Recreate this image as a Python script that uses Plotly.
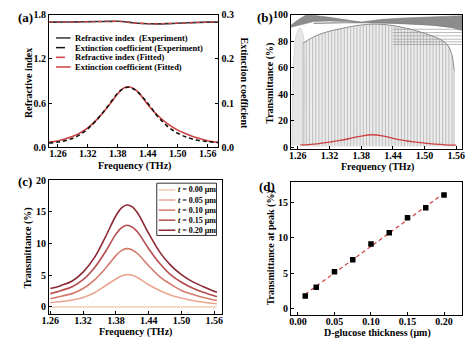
import numpy as np
import plotly.graph_objects as go

FONT = "Liberation Serif"
W, H = 474, 346

# ---------------- (a) optical constants ----------------
a_freq = [1.2424, 1.26, 1.28, 1.30, 1.32, 1.34, 1.36, 1.38, 1.39, 1.40, 1.41, 1.42,
          1.44, 1.46, 1.48, 1.50, 1.52, 1.54, 1.56, 1.5816]
a_n_exp = [1.700, 1.700, 1.701, 1.703, 1.705, 1.707, 1.709, 1.711, 1.707, 1.700, 1.692, 1.685,
           1.678, 1.676, 1.679, 1.684, 1.690, 1.695, 1.699, 1.700]
a_n_fit = [1.700, 1.700, 1.701, 1.703, 1.705, 1.707, 1.709, 1.710, 1.706, 1.699, 1.691, 1.685,
           1.679, 1.677, 1.680, 1.685, 1.690, 1.695, 1.698, 1.700]
a_k_exp = [0.010, 0.012, 0.017, 0.026, 0.042, 0.065, 0.093, 0.123, 0.132, 0.136, 0.133, 0.125,
           0.100, 0.070, 0.047, 0.032, 0.022, 0.016, 0.013, 0.011]
a_k_fit = [0.012, 0.0145, 0.021, 0.030, 0.044, 0.065, 0.092, 0.121, 0.133, 0.137, 0.134, 0.126,
           0.097, 0.072, 0.053, 0.039, 0.029, 0.021, 0.015, 0.011]
a_legend = ["Refractive index  (Experiment)", "Extinction coefficient (Experiment)",
            "Refractive index (Fitted)", "Extinction coefficient (Fitted)"]
freq_ticks = [1.26, 1.32, 1.38, 1.44, 1.50, 1.56]
a_yticks = [0.0, 0.6, 1.2, 1.8]
a_y2ticks = [0.0, 0.1, 0.2, 0.3]

# ---------------- (b) transmittance map ----------------
b_freq = [1.265, 1.28, 1.30, 1.32, 1.34, 1.36, 1.38, 1.40, 1.42, 1.44, 1.46, 1.48,
          1.50, 1.52, 1.54, 1.56]
b_trans = [1.6, 1.9, 2.6, 3.7, 5.0, 6.6, 8.3, 9.3, 8.5, 6.6, 5.0, 3.9, 3.0, 2.2, 1.7, 1.5]
b_mesh_freq = [1.270, 1.276, 1.282, 1.288, 1.294, 1.300, 1.306, 1.312, 1.318, 1.324, 1.330,
               1.336, 1.342, 1.348, 1.354, 1.360, 1.366, 1.372, 1.378, 1.384, 1.390, 1.396,
               1.402, 1.408, 1.414, 1.420, 1.426, 1.432, 1.438, 1.444, 1.450, 1.456, 1.462,
               1.468, 1.474, 1.480, 1.486, 1.492, 1.498, 1.504, 1.510, 1.516, 1.522, 1.528,
               1.534, 1.540, 1.546, 1.552, 1.556]
b_mesh_top = [78.5, 80, 81.5, 82.8, 84, 85, 85.8, 86.6, 87.3, 88, 88.5, 89, 89.5, 90, 90.5,
              91, 91.4, 91.8, 92.1, 92.4, 92.6, 92.8, 92.9, 92.9, 92.8, 92.7, 92.5, 92.2,
              91.9, 91.5, 91.1, 90.6, 90.1, 89.6, 89, 88.3, 87.6, 86.9, 86.2, 85.4, 84.6,
              83.7, 82.7, 81.6, 80.3, 78.5, 75.5, 69, 58]
b_mesh_bottom = 1.0
b_h_levels = [89, 86.5, 84, 81.5, 79.5, 77.5]
b_h_start = 1.44
b_left_x = [1.249, 1.250, 1.253, 1.258, 1.264, 1.270, 1.272, 1.272]
b_left_y = [1, 30, 70, 86, 90, 85, 78, 1]
b_wedgeL_x = [1.247, 1.26, 1.275, 1.29, 1.32, 1.35, 1.38, 1.35, 1.32, 1.29, 1.27, 1.247]
b_wedgeL_y = [92, 96, 99.5, 99.6, 98, 96, 94.5, 94.8, 95.2, 94.8, 93, 90.5]
b_wedgeR_x = [1.38, 1.42, 1.46, 1.50, 1.54, 1.5711, 1.5711, 1.55, 1.52, 1.48, 1.44, 1.40]
b_wedgeR_y = [94.5, 96.5, 97.5, 98.3, 99, 99.3, 88, 90.5, 92, 93, 93.5, 94]
b_band_x = [1.29, 1.33, 1.37, 1.41, 1.45, 1.49, 1.53, 1.5711]
b_band_y = [93.5, 93.8, 94.0, 94.0, 93.6, 92.8, 91.5, 89.5]
b_yticks = [0, 20, 40, 60, 80, 100]

# ---------------- (c) spectra vs thickness ----------------
c_freq = [1.26, 1.28, 1.30, 1.32, 1.34, 1.36, 1.38, 1.39, 1.40, 1.41, 1.42, 1.44, 1.46,
          1.48, 1.50, 1.52, 1.54, 1.565]
c_t000 = [0.0] * 18
c_t005 = [0.66, 0.85, 1.1, 1.5, 2.2, 3.3, 4.4, 4.9, 5.1, 5.0, 4.6, 3.5, 2.6, 1.9, 1.4, 1.0, 0.75, 0.5]
c_t010 = [1.3, 1.7, 2.1, 2.9, 4.2, 6.0, 8.1, 8.9, 9.2, 9.0, 8.4, 6.5, 4.8, 3.6, 2.6, 2.0, 1.5, 1.0]
c_t015 = [2.1, 2.6, 3.2, 4.3, 6.1, 8.6, 11.5, 12.5, 12.9, 12.6, 11.8, 9.2, 6.9, 5.1, 3.9, 3.0, 2.3, 1.6]
c_t020 = [2.9, 3.4, 4.1, 5.5, 7.7, 10.9, 14.4, 15.6, 16.1, 15.8, 14.8, 11.6, 8.7, 6.6, 5.1, 4.0, 3.2, 2.3]
c_series = [c_t000, c_t005, c_t010, c_t015, c_t020]
c_labels = ["0.00", "0.05", "0.10", "0.15", "0.20"]
c_colors = ["#f3cbb7", "#e9a692", "#d57b6c", "#b64c4e", "#8b2935"]
c_yticks = [0, 5, 10, 15, 20]

# ---------------- (d) peak transmittance ----------------
d_thick = [0.01, 0.025, 0.05, 0.075, 0.10, 0.125, 0.15, 0.175, 0.20]
d_peak = [1.8, 3.0, 5.2, 6.9, 9.1, 10.7, 12.8, 14.2, 16.0]
d_xticks = [0.00, 0.05, 0.10, 0.15, 0.20]
d_yticks = [0, 5, 10, 15]

RED = "#cc4040"


def px(x):
    return x / W


def py(y):
    return 1 - y / H


fig = go.Figure()

# (a)
fig.add_trace(go.Scatter(x=a_freq, y=a_n_exp, xaxis="x", yaxis="y", mode="lines",
                         line=dict(color="#333333", width=1.6, shape="spline"), showlegend=False))
fig.add_trace(go.Scatter(x=a_freq, y=a_n_fit, xaxis="x", yaxis="y", mode="lines",
                         line=dict(color=RED, width=1.3, dash="4px,3px", shape="spline"), showlegend=False))
fig.add_trace(go.Scatter(x=a_freq, y=a_k_fit, xaxis="x", yaxis="y5", mode="lines",
                         line=dict(color=RED, width=1.6, shape="spline"), showlegend=False))
fig.add_trace(go.Scatter(x=a_freq, y=a_k_exp, xaxis="x", yaxis="y5", mode="lines",
                         line=dict(color="#111111", width=1.6, dash="4px,3px", shape="spline"), showlegend=False))

# (b)
fig.add_trace(go.Scatter(x=b_mesh_freq, y=b_mesh_top, xaxis="x2", yaxis="y2", mode="lines",
                         line=dict(width=0, color="#ececec", shape="spline"), fill="tozeroy",
                         fillcolor="#ececec", showlegend=False, hoverinfo="skip"))
fig.add_trace(go.Scatter(x=b_left_x, y=b_left_y, xaxis="x2", yaxis="y2", mode="lines",
                         line=dict(width=0.6, color="#c8c8c8", shape="spline"), fill="toself",
                         fillcolor="#e6e6e6", showlegend=False, hoverinfo="skip"))
vx, vy = [], []
for f, top in zip(b_mesh_freq, b_mesh_top):
    vx += [f, f, None]
    vy += [b_mesh_bottom, top, None]
fig.add_trace(go.Scatter(x=vx, y=vy, xaxis="x2", yaxis="y2", mode="lines",
                         line=dict(width=0.7, color="#a9a9a9"), showlegend=False, hoverinfo="skip"))
hx, hy = [], []
for lev in b_h_levels:
    hx += [b_h_start, 1.5711, None]
    hy += [lev, lev, None]
fig.add_trace(go.Scatter(x=hx, y=hy, xaxis="x2", yaxis="y2", mode="lines",
                         line=dict(width=0.6, color="#8c8c8c"), showlegend=False, hoverinfo="skip"))
fig.add_trace(go.Scatter(x=b_mesh_freq, y=b_mesh_top, xaxis="x2", yaxis="y2", mode="lines",
                         line=dict(width=1.0, color="#8a8a8a", shape="spline"),
                         showlegend=False, hoverinfo="skip"))
fig.add_trace(go.Scatter(x=b_band_x, y=b_band_y, xaxis="x2", yaxis="y2", mode="lines",
                         line=dict(width=1.2, color="#909090", shape="spline"),
                         showlegend=False, hoverinfo="skip"))
for wx, wy in [(b_wedgeL_x, b_wedgeL_y), (b_wedgeR_x, b_wedgeR_y)]:
    fig.add_trace(go.Scatter(x=wx, y=wy, xaxis="x2", yaxis="y2", mode="lines",
                             line=dict(width=0.5, color="#777777"), fill="toself",
                             fillcolor="#8c8c8c", showlegend=False, hoverinfo="skip"))
fig.add_trace(go.Scatter(x=b_freq, y=b_trans, xaxis="x2", yaxis="y2", mode="lines",
                         line=dict(color=RED, width=1.3, shape="spline"), showlegend=False))

# (c)
for ser, col in zip(c_series, c_colors):
    fig.add_trace(go.Scatter(x=c_freq, y=ser, xaxis="x3", yaxis="y3", mode="lines",
                             line=dict(color=col, width=1.6, shape="spline"), showlegend=False))

# (d)
coef = np.polyfit(d_thick, d_peak, 1)
fit_x = [d_thick[0], d_thick[-1]]
fit_y = list(np.polyval(coef, fit_x))
fig.add_trace(go.Scatter(x=fit_x, y=fit_y, xaxis="x4", yaxis="y4", mode="lines",
                         line=dict(color=RED, width=1.2, dash="4px,3px"), showlegend=False))
fig.add_trace(go.Scatter(x=d_thick, y=d_peak, xaxis="x4", yaxis="y4", mode="markers",
                         marker=dict(symbol="square", size=5.5, color="black"), showlegend=False))

tickfont = dict(family=FONT, size=10, color="black", weight="bold")
base = dict(showline=True, linecolor="black", linewidth=1, mirror=True, ticks="inside",
            ticklen=3, tickcolor="black", tickwidth=1, showgrid=False, zeroline=False,
            tickfont=tickfont)
xbase = dict(base, ticklabelstandoff=-3)

fig.update_layout(
    width=W, height=H, margin=dict(l=0, r=0, t=0, b=0),
    paper_bgcolor="white", plot_bgcolor="white",
    font=dict(family=FONT, size=10, color="black", weight="bold"),
    xaxis=dict(xbase, domain=[px(43), px(216)], range=[1.2424, 1.5816], tickvals=freq_ticks,
               tickformat=".2f", anchor="y"),
    yaxis=dict(base, domain=[py(146), py(9)], range=[0, 1.8], tickvals=a_yticks,
               tickformat=".1f", anchor="x", mirror=False),
    yaxis5=dict(base, range=[0, 0.3], tickvals=a_y2ticks, tickformat=".1f", overlaying="y",
                side="right", anchor="x", mirror=False),
    xaxis2=dict(xbase, domain=[px(290), px(465)], range=[1.247, 1.5711], tickvals=freq_ticks,
                tickformat=".2f", anchor="y2"),
    yaxis2=dict(base, domain=[py(148), py(9)], range=[-1.7, 100], tickvals=b_yticks,
                anchor="x2"),
    xaxis3=dict(xbase, domain=[px(43), px(220)], range=[1.2577, 1.5749], tickvals=freq_ticks,
                tickformat=".2f", anchor="y3"),
    yaxis3=dict(base, domain=[py(318), py(180)], range=[-1.1, 20], tickvals=c_yticks,
                anchor="x3"),
    xaxis4=dict(xbase, domain=[px(290), px(465)], range=[-0.0097, 0.2249], tickvals=d_xticks,
                tickformat=".2f", anchor="y4"),
    yaxis4=dict(base, domain=[py(319), py(182)], range=[-0.87, 17.8], tickvals=d_yticks,
                anchor="x4"),
)

ann = []
shapes = []


def text(x, y, s, size=10, angle=0, xanchor="center", yanchor="middle"):
    ann.append(dict(x=px(x), y=py(y), xref="paper", yref="paper", text=s, showarrow=False,
                    textangle=angle, xanchor=xanchor, yanchor=yanchor,
                    font=dict(family=FONT, size=size, color="black", weight="bold")))


# panel labels
text(19, 12, "(a)", size=13)
text(264, 12, "(b)", size=13)
text(18, 181, "(c)", size=13)
text(266, 186, "(d)", size=13)
# axis titles
text(22, 80, "Refractive index", angle=-90)
text(243, 80, "Extinction coefficient", angle=90)
text(130, 165, "Frequency (THz)")
text(269, 80, "Transmittance (%)", angle=-90)
text(378, 166, "Frequency (THz)")
text(22, 250, "Transmittance (%)", angle=-90)
text(131, 337, "Frequency (THz)")
text(270, 250, "Transmittance at peak (%)", angle=-90)
text(378, 338, "D-glucose thickness (μm)")

# legend (a)
a_styles = [("#333333", "solid"), ("#111111", "dash"), (RED, "dash"), (RED, "solid")]
for i, (lab, (col, dsh)) in enumerate(zip(a_legend, a_styles)):
    yy = 33 + i * 10
    shapes.append(dict(type="line", xref="paper", yref="paper", x0=px(50), x1=px(65),
                       y0=py(yy), y1=py(yy), line=dict(color=col, width=1.5, dash=dsh)))
    text(67, yy, lab, size=8.5, xanchor="left")

# legend (c)
shapes.append(dict(type="rect", xref="paper", yref="paper", x0=px(153), x1=px(214),
                   y0=py(237), y1=py(183), line=dict(color="black", width=0.8)))
for i, (lab, col) in enumerate(zip(c_labels, c_colors)):
    yy = 190 + i * 10.4
    shapes.append(dict(type="line", xref="paper", yref="paper", x0=px(155), x1=px(172),
                       y0=py(yy), y1=py(yy), line=dict(color=col, width=1.5)))
    text(173, yy, "<i>t</i> = " + lab + " μm", size=8, xanchor="left")

fig.update_layout(annotations=ann, shapes=shapes)
fig.write_html("out.html")
